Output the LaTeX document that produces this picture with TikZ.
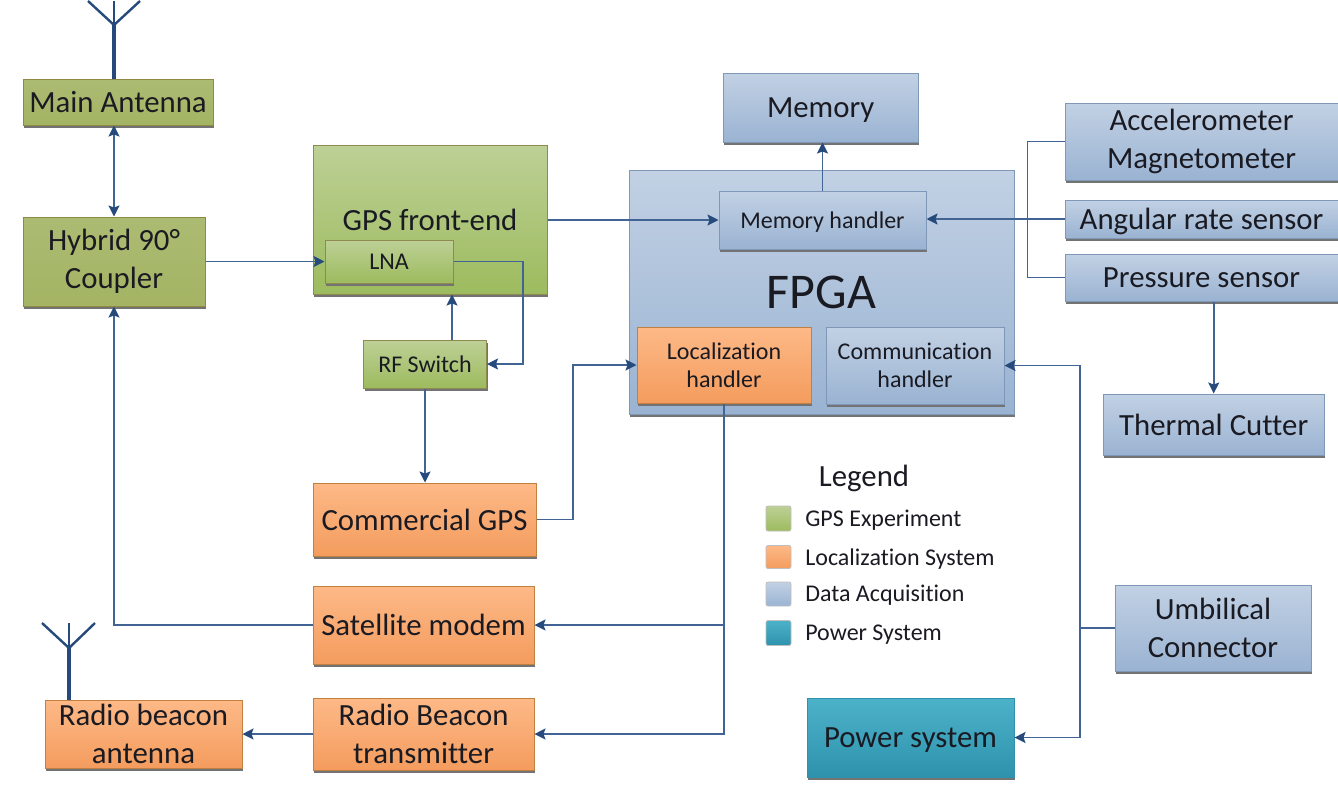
\documentclass[tikz,border=0pt]{standalone}
\usepackage{fontspec}
\setmainfont[Ligatures=NoCommon]{Carlito}
\usetikzlibrary{shadows,positioning,arrows.meta}
\definecolor{wirecol}{HTML}{426494}
\definecolor{tipcol}{HTML}{264A7C}
\definecolor{inkcol}{HTML}{1A1A22}
\definecolor{oldtop}{HTML}{ABBB72}
\definecolor{oldbot}{HTML}{A4B464}
\definecolor{gpstop}{HTML}{BDD096}
\definecolor{gpsbot}{HTML}{9DBB5E}
\definecolor{loctop}{HTML}{FDB987}
\definecolor{locbot}{HTML}{F49C5E}
\definecolor{daqtop}{HTML}{C2D1E4}
\definecolor{daqbot}{HTML}{9AB3D2}
\definecolor{daqline}{HTML}{8098B8}
\definecolor{pwrtop}{HTML}{4CB2C9}
\definecolor{pwrbot}{HTML}{2E92AC}
\tikzset{
    anybox/.style={rectangle, draw, line width=0.5pt, inner sep=0pt, align=center, text=inkcol,
        font=\fontsize{15.4}{18.8}\selectfont,
        copy shadow={shadow xshift=0.6pt, shadow yshift=-1.5pt, fill=black!55, draw=none}},
    smalltext/.style={font=\fontsize{12}{14}\selectfont},
    oldbox/.style={anybox, draw=olive!55!gray, top color=oldtop, bottom color=oldbot},
    gpsbox/.style={anybox, draw=olive!45!gray, top color=gpstop, bottom color=gpsbot},
    locbox/.style={anybox, draw=orange!50!gray, top color=loctop, bottom color=locbot},
    daqbox/.style={anybox, draw=daqline, top color=daqtop, bottom color=daqbot},
    pwrbox/.style={anybox, draw=pwrbot, top color=pwrtop, bottom color=pwrbot},
    swatch/.style={rectangle, rounded corners=1pt, inner sep=0pt, minimum width=12.5pt, draw=black!25},
    keytext/.style={inner sep=0pt, text=inkcol, yshift=-0.8pt, font=\fontsize{12}{14}\selectfont},
    conn/.style={color=wirecol, line width=0.8pt, ->},
    wire/.style={color=wirecol, line width=0.8pt},
    mast/.style={color=tipcol, line width=1.6pt}
}
\begin{document}
\begin{tikzpicture}[x=0.5pt, y=-0.5pt, >={Stealth[length=5.5pt, width=5.5pt, inset=1pt, color=tipcol]}]
    \useasboundingbox (0,0) rectangle (1338,800);
    % left column
    \node[oldbox, minimum width=95pt, minimum height=23pt] (mainant) at (118,102) {Main Antenna};
    \node[oldbox, minimum width=91pt, minimum height=44.5pt] (hybrid) at (114,261.5) {Hybrid 90°\\Coupler};
    \node[locbox, minimum width=98.5pt, minimum height=34pt] (beaconant) at (143.5,734) {Radio beacon\\antenna};
    % gps part
    \node[gpsbox, minimum width=117pt, minimum height=74.5pt] (gpsfront) at (430,219.5) {GPS front-end};
    \node[gpsbox, smalltext, minimum width=64pt, minimum height=21.5pt] (lna) at (389,261.5) {LNA};
    \node[gpsbox, smalltext, minimum width=61.5pt, minimum height=24pt] (rfswitch) at (425,364) {RF Switch};
    \node[locbox, minimum width=111.5pt, minimum height=36.5pt] (commgps) at (424.5,519.5) {Commercial GPS};
    \node[locbox, minimum width=110.5pt, minimum height=39pt] (satmodem) at (423.5,625) {Satellite modem};
    \node[locbox, minimum width=110.5pt, minimum height=36pt] (beacontx) at (423.5,734) {Radio Beacon\\transmitter};
    % fpga and its handlers
    \node[daqbox, minimum width=192.5pt, minimum height=122pt, font=\fontsize{25}{30}\selectfont] (fpga) at (821.5,292) {FPGA};
    \node[daqbox, text depth=0pt, minimum width=97.5pt, minimum height=34.5pt] (memory) at (820.7,107.5) {Memory};
    \node[daqbox, smalltext, text depth=0pt, minimum width=103.5pt, minimum height=29pt] (memhandler) at (822.5,220) {Memory handler};
    \node[locbox, smalltext, minimum width=87pt, minimum height=38pt] (lochandler) at (724,365) {Localization\\handler};
    \node[daqbox, smalltext, minimum width=89pt, minimum height=38.5pt] (commhandler) at (915,365.5) {Communication\\handler};
    % sensors
    \node[daqbox, minimum width=136.5pt, minimum height=38.5pt] (accel) at (1201.5,141.5) {Accelerometer\\Magnetometer};
    \node[daqbox, text depth=0pt, minimum width=136.5pt, minimum height=19pt] (angular) at (1201.5,219) {Angular rate sensor};
    \node[daqbox, minimum width=136.5pt, minimum height=23.5pt] (pressure) at (1201.5,277.5) {Pressure sensor};
    \node[daqbox, minimum width=110.5pt, minimum height=30.5pt] (thermal) at (1213.7,424.5) {Thermal Cutter};
    \node[daqbox, minimum width=98pt, minimum height=43pt] (umbilical) at (1213,628) {Umbilical\\Connector};
    \node[pwrbox, text depth=0pt, minimum width=103.5pt, minimum height=39.5pt] (powersys) at (910.5,737.5) {Power system};
    % legend
    \node[keytext, yshift=0pt, font=\fontsize{15.4}{18}\selectfont] (legend) at (864,476.5) {Legend};
    \node[swatch, top color=gpstop, bottom color=gpsbot, minimum height=12.5pt] (swgps) at (778.5,518.5) {};
    \node[swatch, top color=loctop, bottom color=locbot, minimum height=11.5pt] (swloc) at (778.5,557) {};
    \node[swatch, top color=daqtop, bottom color=daqbot, minimum height=12pt] (swdaq) at (778.5,594) {};
    \node[swatch, top color=pwrtop, bottom color=pwrbot, minimum height=12.5pt] (swpwr) at (778.5,633) {};
    \node[keytext, right=6.75pt of swgps] (kgps) {GPS Experiment};
    \node[keytext, right=6.75pt of swloc] (kloc) {Localization System};
    \node[keytext, right=6.75pt of swdaq] (kdaq) {Data Acquisition};
    \node[keytext, right=6.75pt of swpwr] (kpwr) {Power System};
    % bends and antenna points
    \coordinate (rfbend) at (523,300);
    \coordinate (locbus) at (573,365);
    \coordinate (sensbus) at (1027.5,219);
    \coordinate (umbjoin) at (1080,628);
    \coordinate (locbranch) at (lochandler.south |- satmodem.east);
    \coordinate (mainfork) at (114,25);
    \coordinate (maintip) at (114,1);
    \coordinate (mainleft) at (88,1);
    \coordinate (mainright) at (140,1);
    \coordinate (beaconfork) at (69,648);
    \coordinate (beacontip) at (69,623);
    \coordinate (beaconleft) at (42,623);
    \coordinate (beaconright) at (95,623);
    % antennas
    \draw[mast] (mainfork -| hybrid.north) -- (mainfork |- mainant.north);
    \path[color=tipcol, line width=1.2pt]
        (mainfork) edge (maintip)
        (mainfork) edge (mainleft)
        (mainfork) edge (mainright)
        (beaconfork) edge (beacontip)
        (beaconfork) edge (beaconleft)
        (beaconfork) edge (beaconright);
    \draw[mast] (beaconfork) -- (beaconfork |- beaconant.north);
    % connectors
    \draw[conn, <->] (hybrid.north) -- (hybrid.north |- mainant.south);
    \path[conn]
        (hybrid.east) edge (lna.west)
        (rfswitch.south) edge (rfswitch.south |- commgps.north)
        (gpsfront.east |- memhandler.west) edge (memhandler.west)
        (memhandler.north) edge (memhandler.north |- memory.south)
        (thermal.north |- pressure.south) edge (thermal.north)
        (locbranch) edge (satmodem.east)
        (beacontx.west) edge (beacontx.west -| beaconant.east);
    \draw[conn] ([xshift=13.5pt]rfswitch.north) -- ([xshift=13.5pt]rfswitch.north |- gpsfront.south);
    \draw[conn] (lna.east) -| (rfbend) |- (rfswitch.east);
    \draw[conn] (commgps.east) -| (locbus) -- (lochandler.west);
    \draw[conn, line width=1.1pt] (angular.west) -- (angular.west -| memhandler.east);
    \draw[wire] (accel.west) -| (sensbus) |- (pressure.west);
    \draw[conn] (satmodem.west) -| (hybrid.south);
    \draw[conn] (lochandler.south) |- (beacontx.east);
    \draw[wire, line width=1.4pt] (umbilical.west) -- (umbjoin);
    \draw[conn] (umbjoin) |- (commhandler.east);
    \draw[conn] (umbjoin) |- (powersys.east);
\end{tikzpicture}
\end{document}
